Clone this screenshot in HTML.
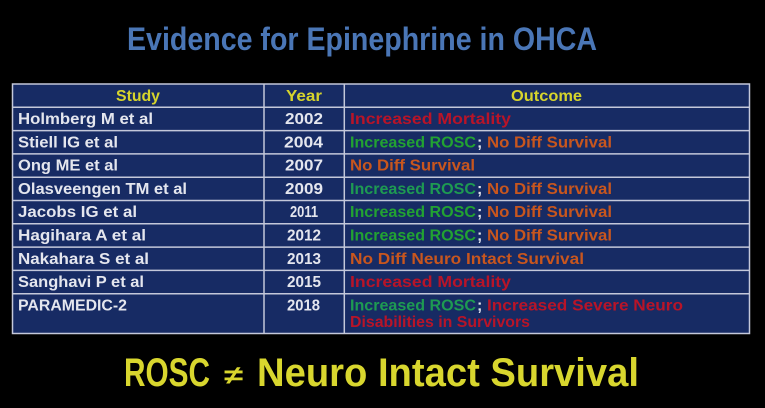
<!DOCTYPE html>
<html>
<head>
<meta charset="utf-8">
<style>
html,body{margin:0;padding:0;background:#000;}
svg{display:block;}
text{font-family:"Liberation Sans",sans-serif;font-weight:bold;}
</style>
</head>
<body>
<svg width="765" height="408" viewBox="0 0 765 408" xmlns="http://www.w3.org/2000/svg">
<rect x="0" y="0" width="765" height="408" fill="#000"/>
<!-- Title -->
<text x="127" y="50" font-size="32" fill="#4a76b6" textLength="470" lengthAdjust="spacingAndGlyphs">Evidence for Epinephrine in OHCA</text>

<!-- Table background -->
<rect x="12.5" y="84" width="737" height="249.5" fill="#172b64" stroke="#c4c8da" stroke-width="1.5"/>
<!-- horizontal lines -->
<g stroke="#c4c8da" stroke-width="1.5">
<line x1="12.5" y1="107.3" x2="749.5" y2="107.3"/>
<line x1="12.5" y1="130.6" x2="749.5" y2="130.6"/>
<line x1="12.5" y1="153.9" x2="749.5" y2="153.9"/>
<line x1="12.5" y1="177.2" x2="749.5" y2="177.2"/>
<line x1="12.5" y1="200.5" x2="749.5" y2="200.5"/>
<line x1="12.5" y1="223.8" x2="749.5" y2="223.8"/>
<line x1="12.5" y1="247.1" x2="749.5" y2="247.1"/>
<line x1="12.5" y1="270.4" x2="749.5" y2="270.4"/>
<line x1="12.5" y1="293.7" x2="749.5" y2="293.7"/>
<line x1="264" y1="84" x2="264" y2="333.5"/>
<line x1="344.3" y1="84" x2="344.3" y2="333.5"/>
</g>

<!-- Header -->
<g font-size="16" fill="#d6d42c">
<text x="116" y="101" textLength="44" lengthAdjust="spacingAndGlyphs">Study</text>
<text x="286" y="101" textLength="36" lengthAdjust="spacingAndGlyphs">Year</text>
<text x="511" y="101" textLength="71" lengthAdjust="spacingAndGlyphs">Outcome</text>
</g>

<!-- Study column -->
<g font-size="16" fill="#e4e6ee">
<text x="18" y="124" textLength="135" lengthAdjust="spacingAndGlyphs">Holmberg M et al</text>
<text x="18" y="147.3" textLength="100" lengthAdjust="spacingAndGlyphs">Stiell IG et al</text>
<text x="18" y="170.6" textLength="100" lengthAdjust="spacingAndGlyphs">Ong ME et al</text>
<text x="18" y="193.9" textLength="169" lengthAdjust="spacingAndGlyphs">Olasveengen TM et al</text>
<text x="18" y="217.2" textLength="119" lengthAdjust="spacingAndGlyphs">Jacobs IG et al</text>
<text x="18" y="240.5" textLength="128" lengthAdjust="spacingAndGlyphs">Hagihara A et al</text>
<text x="18" y="263.8" textLength="131" lengthAdjust="spacingAndGlyphs">Nakahara S et al</text>
<text x="18" y="287.1" textLength="126" lengthAdjust="spacingAndGlyphs">Sanghavi P et al</text>
<text x="18" y="310.4" textLength="109" lengthAdjust="spacingAndGlyphs">PARAMEDIC-2</text>
</g>

<!-- Year column -->
<g font-size="16" fill="#e4e6ee">
<text x="285" y="124" textLength="38" lengthAdjust="spacingAndGlyphs">2002</text>
<text x="284" y="147.3" textLength="39" lengthAdjust="spacingAndGlyphs">2004</text>
<text x="285" y="170.6" textLength="38" lengthAdjust="spacingAndGlyphs">2007</text>
<text x="285" y="193.9" textLength="38" lengthAdjust="spacingAndGlyphs">2009</text>
<text x="290" y="217.2" textLength="28" lengthAdjust="spacingAndGlyphs">2011</text>
<text x="287" y="240.5" textLength="34" lengthAdjust="spacingAndGlyphs">2012</text>
<text x="287" y="263.8" textLength="34" lengthAdjust="spacingAndGlyphs">2013</text>
<text x="287" y="287.1" textLength="34" lengthAdjust="spacingAndGlyphs">2015</text>
<text x="287" y="310.4" textLength="33" lengthAdjust="spacingAndGlyphs">2018</text>
</g>

<!-- Outcome column -->
<g font-size="16">
<text x="350" y="124" fill="#b81428" textLength="161" lengthAdjust="spacingAndGlyphs">Increased Mortality</text>

<text x="350" y="147.3" fill="#22a232" textLength="126" lengthAdjust="spacingAndGlyphs">Increased ROSC</text>
<text x="477" y="147.3" fill="#e4e6ee">;</text>
<text x="487" y="147.3" fill="#c8561e" textLength="125" lengthAdjust="spacingAndGlyphs">No Diff Survival</text>

<text x="350" y="170.6" fill="#c8561e" textLength="125" lengthAdjust="spacingAndGlyphs">No Diff Survival</text>

<text x="350" y="193.9" fill="#1e9a52" textLength="126" lengthAdjust="spacingAndGlyphs">Increased ROSC</text>
<text x="477" y="193.9" fill="#e4e6ee">;</text>
<text x="487" y="193.9" fill="#c8561e" textLength="125" lengthAdjust="spacingAndGlyphs">No Diff Survival</text>

<text x="350" y="217.2" fill="#22a232" textLength="126" lengthAdjust="spacingAndGlyphs">Increased ROSC</text>
<text x="477" y="217.2" fill="#e4e6ee">;</text>
<text x="487" y="217.2" fill="#c8561e" textLength="125" lengthAdjust="spacingAndGlyphs">No Diff Survival</text>

<text x="350" y="240.5" fill="#22a232" textLength="126" lengthAdjust="spacingAndGlyphs">Increased ROSC</text>
<text x="477" y="240.5" fill="#e4e6ee">;</text>
<text x="487" y="240.5" fill="#c8561e" textLength="125" lengthAdjust="spacingAndGlyphs">No Diff Survival</text>

<text x="350" y="263.8" fill="#c8561e" textLength="234" lengthAdjust="spacingAndGlyphs">No Diff Neuro Intact Survival</text>

<text x="350" y="287.1" fill="#b81428" textLength="161" lengthAdjust="spacingAndGlyphs">Increased Mortality</text>

<text x="350" y="310.4" fill="#1e9a52" textLength="126" lengthAdjust="spacingAndGlyphs">Increased ROSC</text>
<text x="477" y="310.4" fill="#e4e6ee">;</text>
<text x="487" y="310.4" fill="#b81428" textLength="196" lengthAdjust="spacingAndGlyphs">Increased Severe Neuro</text>
<text x="350" y="326.8" fill="#b81428" textLength="180" lengthAdjust="spacingAndGlyphs">Disabilities in Survivors</text>
</g>

<!-- Bottom statement -->
<g font-size="40" fill="#d8d62e">
<text x="124" y="386" textLength="86" lengthAdjust="spacingAndGlyphs">ROSC</text>
<text x="224" y="384" font-size="26" font-weight="normal" textLength="19" lengthAdjust="spacingAndGlyphs">≠</text>
<text x="257" y="386" textLength="382" lengthAdjust="spacingAndGlyphs">Neuro Intact Survival</text>
</g>
</svg>
</body>
</html>
